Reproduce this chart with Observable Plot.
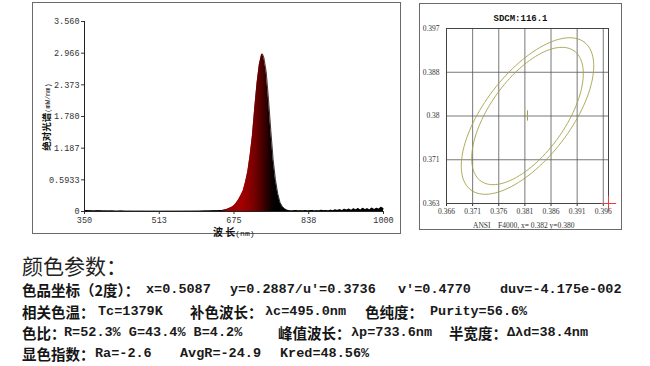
<!DOCTYPE html>
<html><head><meta charset="utf-8">
<script src="https://cdn.jsdelivr.net/npm/d3@7"></script>
<script src="https://cdn.jsdelivr.net/npm/@observablehq/plot@0.6"></script>
<style>
body{margin:0;background:#fff;width:650px;height:366px;position:relative;overflow:hidden;font-family:"Noto Sans CJK SC",sans-serif;color:#111}
.abs{position:absolute}
.box{position:absolute;border:1px solid #6a6a6a;box-sizing:border-box}
.c{position:absolute;white-space:pre;font-family:"Noto Sans CJK SC";font-weight:700;font-size:14.5px;line-height:20px;color:#151515}
.m{position:absolute;white-space:pre;font-family:"Liberation Mono";font-weight:700;font-size:13.5px;line-height:20px;color:#1a1a1a}
</style></head><body>
<div class="box" style="left:32px;top:2px;width:369px;height:232px"></div>
<div class="box" style="left:419px;top:3px;width:203px;height:227px"></div>
<div id="spec" class="abs" style="left:32px;top:2px"></div>
<div id="sdcm" class="abs" style="left:419px;top:20px"></div>

<div class="abs" style="left:45px;top:117px;transform:translate(-50%,-50%) rotate(-90deg);white-space:nowrap;line-height:12px"><span style="font-family:'Noto Sans CJK SC';font-weight:700;font-size:9.5px">绝对光谱</span><span style="font-family:'Liberation Mono';font-size:7px">(mW/nm)</span></div>
<div class="abs" style="left:213px;top:223px;white-space:pre;line-height:12px"><span style="font-family:'Noto Sans CJK SC';font-weight:700;font-size:10px">波 长</span><span style="font-family:'Liberation Mono';font-size:8px">(nm)</span></div>

<div class="abs" style="left:419px;top:12px;width:203px;text-align:center;font-family:'Liberation Mono';font-weight:700;font-size:9px;line-height:14px">SDCM:116.1</div>
<div class="abs" style="left:473px;top:220px;white-space:pre;font-family:'Liberation Serif';font-size:7.5px;line-height:12px;color:#333">ANSI    F4000, x= 0.382 y=0.380</div>

<div class="abs" style="left:22px;top:252px;font-family:'Noto Sans CJK SC';font-size:21px;line-height:27px;color:#222">颜色参数：</div>
<div id="params"></div>

<script>
// ---- spectrum data (wavelength nm, mW/nm) ----
const specWl = [350,360,370,380,390,400,410,420,430,440,450,460,470,480,490,500,510,520,530,540,550,560,570,580,590,600,610,620,630,640,
  645,650,660,670,675,680,685,690,695,700,705,710,715,720,725,730,735,737,740,745,750,755,760,765,770,775,780,785,790,795,800,
  805,810,815,820,825,830,835,840,845,850,855,860,865,870,875,880,885,890,895,900,905,910,915,920,925,930,935,940,945,950,955,960,965,970,975,980,985,990,995,1000];
const specVal = [0.02,0.015,0.01,0.015,0.01,0.008,0.01,0.006,0.008,0.005,0.006,0.004,0.005,0.004,0.003,0.004,0.003,0.003,0.004,0.003,0.004,0.004,0.005,0.005,0.006,0.007,0.008,0.01,0.012,0.015,
  0.018,0.02,0.04,0.08,0.11,0.16,0.22,0.30,0.39,0.55,0.75,1.05,1.42,1.93,2.40,2.75,2.94,2.95,2.88,2.62,2.10,1.52,0.98,0.60,0.34,0.17,0.09,0.05,0.025,0.015,0.01,
  0.012,0.02,0.01,0.015,0.008,0.018,0.01,0.012,0.02,0.008,0.015,0.01,0.022,0.012,0.018,0.01,0.025,0.015,0.03,0.02,0.035,0.015,0.04,0.025,0.045,0.02,0.05,0.03,0.055,0.025,0.06,0.035,0.05,0.03,0.065,0.035,0.06,0.04,0.08,0.05];
const yTicks = [0, 0.5933, 1.1867, 1.78, 2.3733, 2.9667, 3.56];
const yTickLabels = ["0","0.5933","1.187","1.780","2.373","2.966","3.560"];
const xTicks = [350, 512.5, 675, 837.5, 1000];
const xTickLabels = ["350","513","675","838","1000"];

// ---- chromaticity panel data ----
const cieXTicks = [0.3665,0.3715,0.3765,0.3815,0.3865,0.3915,0.3965];
const cieXLabels = ["0.366","0.371","0.376","0.381","0.386","0.391","0.396"];
const cieYTicks = [0.363,0.3715,0.380,0.3885,0.397];
const cieYLabels = ["0.363","0.371","0.38","0.388","0.397"];
const ansiCenter = [0.382, 0.380];
const ellipseA = [0.0180, 0.01548];
const ellipseB = [0.00824, 0.00724];
const ellipseAngle = [53, 55];
const sample = [0.5087, 0.2887];

// ---- colour parameter texts ----
const paramLabels = [
  ["色品坐标（2度）："],
  ["相关色温：", "补色波长：", "色纯度："],
  ["色比：", "峰值波长：", "半宽度："],
  ["显色指数："]
];
const paramValues = [
  ["x=0.5087", "y=0.2887/u'=0.3736", "v'=0.4770", "duv=-4.175e-002"],
  ["Tc=1379K", "λc=495.0nm", "Purity=56.6%"],
  ["R=52.3% G=43.4% B=4.2%", "λp=733.6nm", "Δλd=38.4nm"],
  ["Ra=-2.6", "AvgR=-24.9", "Kred=48.56%"]
];
// layout of the text block (x positions of each label / value run)
const labelX = [[22],[22,190,365],[22,278,449],[22]];
const valueX = [[146,230,398,500],[98,265,430],[64,351,507],[95,180,280]];
const lineTop = [280,302,323,344];

const params = document.getElementById("params");
paramLabels.forEach((row,i)=>{
  row.forEach((t,j)=>{const s=document.createElement("span");s.className="c";s.style.left=labelX[i][j]+"px";s.style.top=(lineTop[i]-0.5)+"px";s.textContent=t;params.append(s);});
  paramValues[i].forEach((t,j)=>{const s=document.createElement("span");s.className="m";s.style.left=valueX[i][j]+"px";s.style.top=lineTop[i]+"px";s.textContent=t;params.append(s);});
});

// styles
const gradStops = [[645,"#000000"],[660,"#9a0000"],[695,"#a20000"],[720,"#760000"],[738,"#480000"],[752,"#1a0000"],[765,"#000000"]];
const olive = "#a6a24a";

const spec = specWl.map((w,i)=>({wl:w, v:specVal[i]}));
const left = Plot.plot({
  width:369, height:232, marginLeft:52, marginRight:18, marginTop:19, marginBottom:23,
  style:{fontFamily:"Liberation Mono", fontSize:"8.5px", color:"#333", background:"transparent", overflow:"visible"},
  x:{domain:[350,1000], ticks:xTicks, tickFormat:d=>xTickLabels[xTicks.indexOf(d)], tickSize:3, tickPadding:2, label:null},
  y:{domain:[0,3.56], ticks:yTicks, tickFormat:d=>yTickLabels[yTicks.indexOf(d)], tickSize:3, tickPadding:2, label:null},
  marks:[
    Plot.areaY(spec,{x:"wl",y:"v",fill:"url(#specGrad)"}),
    Plot.lineY(spec,{x:"wl",y:"v",stroke:"url(#specGrad)",strokeWidth:0.8}),
    Plot.ruleX([350],{stroke:"#222"}),
    Plot.ruleY([0],{stroke:"#222"})
  ]
});
const xs = left.scale("x");
const g0 = xs.apply(gradStops[0][0]), g1 = xs.apply(gradStops[gradStops.length-1][0]);
const grad = d3.select(left).insert("defs",":first-child").append("linearGradient")
  .attr("id","specGrad").attr("gradientUnits","userSpaceOnUse")
  .attr("x1",g0).attr("x2",g1).attr("y1",0).attr("y2",0);
gradStops.forEach(([w,c])=>grad.append("stop").attr("offset",(xs.apply(w)-g0)/(g1-g0)).attr("stop-color",c));
document.getElementById("spec").append(left);

// ellipses
const ellPts = [];
ellipseA.forEach((a,k)=>{
  const b = ellipseB[k], th = ellipseAngle[k]*Math.PI/180;
  for(let j=0;j<=120;j++){
    const t = j/120*2*Math.PI;
    ellPts.push({k, x: ansiCenter[0] + a*Math.cos(th)*Math.cos(t) - b*Math.sin(th)*Math.sin(t),
                    y: ansiCenter[1] + a*Math.sin(th)*Math.cos(t) + b*Math.cos(th)*Math.sin(t)});
  }
});
const xDom = [0.3665, 0.3975], yDom = [0.363, 0.397];
const right = Plot.plot({
  width:203, height:200, marginLeft:27, marginRight:14, marginTop:8, marginBottom:17,
  style:{fontFamily:"Liberation Serif", fontSize:"7.5px", color:"#333", background:"transparent", overflow:"visible"},
  x:{domain:xDom, ticks:cieXTicks, tickFormat:d=>cieXLabels[cieXTicks.indexOf(d)], tickSize:3, tickPadding:2, label:null},
  y:{domain:yDom, ticks:cieYTicks, tickFormat:d=>cieYLabels[cieYTicks.indexOf(d)], tickSize:0, tickPadding:7, label:null},
  marks:[
    Plot.ruleX(cieXTicks,{stroke:"#555", strokeWidth:0.8}),
    Plot.ruleY(cieYTicks,{stroke:"#555", strokeWidth:0.8}),
    Plot.frame({stroke:"#444"}),
    Plot.line(ellPts,{x:"x",y:"y",z:"k",stroke:olive,strokeWidth:0.9}),
    Plot.ruleX([ansiCenter],{x:d=>d[0],y1:d=>d[1]-0.001,y2:d=>d[1]+0.001,stroke:olive}),
    Plot.dot([sample],{x:d=>Math.min(d[0],xDom[1]),y:d=>Math.max(d[1],yDom[0]),symbol:"plus",r:5,stroke:"#e04040",strokeWidth:1})
  ]
});
document.getElementById("sdcm").append(right);
</script>
</body></html>
